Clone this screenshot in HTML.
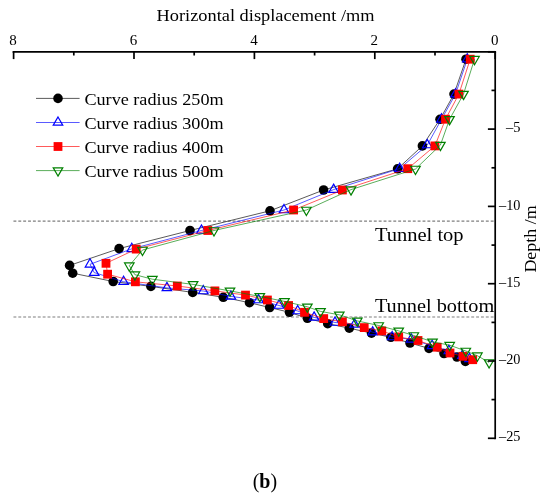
<!DOCTYPE html>
<html lang="en"><head><meta charset="utf-8"><title>Horizontal displacement</title>
<style>html,body{margin:0;padding:0;background:#fff}body{width:550px;height:499px;overflow:hidden}</style></head>
<body>
<svg width="550" height="499" viewBox="0 0 550 499" style="display:block;font-family:'Liberation Serif',serif">
<rect width="550" height="499" fill="#fff"/>
<line x1="13.45" x2="495" y1="221.2" y2="221.2" stroke="#7f7f7f" stroke-width="1.2" stroke-dasharray="2.9 1.97"/>
<line x1="13.45" x2="495" y1="317.0" y2="317.0" stroke="#7f7f7f" stroke-width="1.2" stroke-dasharray="2.9 1.97"/>
<polyline fill="none" stroke="#000" stroke-width="0.65" points="466.0,59.2 454.0,94.1 440.0,119.3 422.4,145.9 397.6,168.8 323.6,190.0 270.0,210.8 190.0,230.5 119.1,248.6 69.6,265.4 72.7,273.2 113.2,281.5 150.9,286.4 192.7,292.4 223.3,297.3 249.5,302.7 269.7,307.5 289.5,312.3 307.4,318.3 327.7,323.7 349.3,328.2 371.5,333.1 390.9,337.3 410.0,343.0 429.0,348.4 444.0,353.5 457.0,357.0 465.4,361.4"/>
<circle cx="466.0" cy="59.2" r="4.8" fill="#000"/>
<circle cx="454.0" cy="94.1" r="4.8" fill="#000"/>
<circle cx="440.0" cy="119.3" r="4.8" fill="#000"/>
<circle cx="422.4" cy="145.9" r="4.8" fill="#000"/>
<circle cx="397.6" cy="168.8" r="4.8" fill="#000"/>
<circle cx="323.6" cy="190.0" r="4.8" fill="#000"/>
<circle cx="270.0" cy="210.8" r="4.8" fill="#000"/>
<circle cx="190.0" cy="230.5" r="4.8" fill="#000"/>
<circle cx="119.1" cy="248.6" r="4.8" fill="#000"/>
<circle cx="69.6" cy="265.4" r="4.8" fill="#000"/>
<circle cx="72.7" cy="273.2" r="4.8" fill="#000"/>
<circle cx="113.2" cy="281.5" r="4.8" fill="#000"/>
<circle cx="150.9" cy="286.4" r="4.8" fill="#000"/>
<circle cx="192.7" cy="292.4" r="4.8" fill="#000"/>
<circle cx="223.3" cy="297.3" r="4.8" fill="#000"/>
<circle cx="249.5" cy="302.7" r="4.8" fill="#000"/>
<circle cx="269.7" cy="307.5" r="4.8" fill="#000"/>
<circle cx="289.5" cy="312.3" r="4.8" fill="#000"/>
<circle cx="307.4" cy="318.3" r="4.8" fill="#000"/>
<circle cx="327.7" cy="323.7" r="4.8" fill="#000"/>
<circle cx="349.3" cy="328.2" r="4.8" fill="#000"/>
<circle cx="371.5" cy="333.1" r="4.8" fill="#000"/>
<circle cx="390.9" cy="337.3" r="4.8" fill="#000"/>
<circle cx="410.0" cy="343.0" r="4.8" fill="#000"/>
<circle cx="429.0" cy="348.4" r="4.8" fill="#000"/>
<circle cx="444.0" cy="353.5" r="4.8" fill="#000"/>
<circle cx="457.0" cy="357.0" r="4.8" fill="#000"/>
<circle cx="465.4" cy="361.4" r="4.8" fill="#000"/>
<polyline fill="none" stroke="#0000ff" stroke-width="0.65" points="467.3,59.2 455.5,94.1 441.5,119.3 427.3,145.0 399.6,168.6 333.6,189.6 284.0,210.0 201.5,230.5 131.8,248.8 90.0,264.3 94.2,272.6 123.6,281.7 166.9,287.9 203.3,291.0 230.9,296.4 258.5,300.0 279.0,305.5 297.7,311.0 314.1,317.4 335.0,322.5 354.6,324.4 372.7,332.2 392.2,337.0 411.2,339.3 432.1,345.8 448.9,350.8 462.4,355.6 469.5,358.8"/>
<path d="M467.30 53.70L472.06 61.95L462.54 61.95Z" fill="none" stroke="#0000ff" stroke-width="1.2"/>
<path d="M455.50 88.60L460.26 96.85L450.74 96.85Z" fill="none" stroke="#0000ff" stroke-width="1.2"/>
<path d="M441.50 113.80L446.26 122.05L436.74 122.05Z" fill="none" stroke="#0000ff" stroke-width="1.2"/>
<path d="M427.30 139.50L432.06 147.75L422.54 147.75Z" fill="none" stroke="#0000ff" stroke-width="1.2"/>
<path d="M399.60 163.10L404.36 171.35L394.84 171.35Z" fill="none" stroke="#0000ff" stroke-width="1.2"/>
<path d="M333.60 184.10L338.36 192.35L328.84 192.35Z" fill="none" stroke="#0000ff" stroke-width="1.2"/>
<path d="M284.00 204.50L288.76 212.75L279.24 212.75Z" fill="none" stroke="#0000ff" stroke-width="1.2"/>
<path d="M201.50 225.00L206.26 233.25L196.74 233.25Z" fill="none" stroke="#0000ff" stroke-width="1.2"/>
<path d="M131.80 243.30L136.56 251.55L127.04 251.55Z" fill="none" stroke="#0000ff" stroke-width="1.2"/>
<path d="M90.00 258.80L94.76 267.05L85.24 267.05Z" fill="none" stroke="#0000ff" stroke-width="1.2"/>
<path d="M94.20 267.10L98.96 275.35L89.44 275.35Z" fill="none" stroke="#0000ff" stroke-width="1.2"/>
<path d="M123.60 276.20L128.36 284.45L118.84 284.45Z" fill="none" stroke="#0000ff" stroke-width="1.2"/>
<path d="M166.90 282.40L171.66 290.65L162.14 290.65Z" fill="none" stroke="#0000ff" stroke-width="1.2"/>
<path d="M203.30 285.50L208.06 293.75L198.54 293.75Z" fill="none" stroke="#0000ff" stroke-width="1.2"/>
<path d="M230.90 290.90L235.66 299.15L226.14 299.15Z" fill="none" stroke="#0000ff" stroke-width="1.2"/>
<path d="M258.50 294.50L263.26 302.75L253.74 302.75Z" fill="none" stroke="#0000ff" stroke-width="1.2"/>
<path d="M279.00 300.00L283.76 308.25L274.24 308.25Z" fill="none" stroke="#0000ff" stroke-width="1.2"/>
<path d="M297.70 305.50L302.46 313.75L292.94 313.75Z" fill="none" stroke="#0000ff" stroke-width="1.2"/>
<path d="M314.10 311.90L318.86 320.15L309.34 320.15Z" fill="none" stroke="#0000ff" stroke-width="1.2"/>
<path d="M335.00 317.00L339.76 325.25L330.24 325.25Z" fill="none" stroke="#0000ff" stroke-width="1.2"/>
<path d="M354.60 318.90L359.36 327.15L349.84 327.15Z" fill="none" stroke="#0000ff" stroke-width="1.2"/>
<path d="M372.70 326.70L377.46 334.95L367.94 334.95Z" fill="none" stroke="#0000ff" stroke-width="1.2"/>
<path d="M392.20 331.50L396.96 339.75L387.44 339.75Z" fill="none" stroke="#0000ff" stroke-width="1.2"/>
<path d="M411.20 333.80L415.96 342.05L406.44 342.05Z" fill="none" stroke="#0000ff" stroke-width="1.2"/>
<path d="M432.10 340.30L436.86 348.55L427.34 348.55Z" fill="none" stroke="#0000ff" stroke-width="1.2"/>
<path d="M448.90 345.30L453.66 353.55L444.14 353.55Z" fill="none" stroke="#0000ff" stroke-width="1.2"/>
<path d="M462.40 350.10L467.16 358.35L457.64 358.35Z" fill="none" stroke="#0000ff" stroke-width="1.2"/>
<path d="M469.50 353.30L474.26 361.55L464.74 361.55Z" fill="none" stroke="#0000ff" stroke-width="1.2"/>
<polyline fill="none" stroke="#ff0000" stroke-width="0.65" points="470.2,59.2 458.9,94.1 445.5,119.2 434.9,145.9 407.8,168.7 342.4,190.0 293.6,210.0 207.8,230.5 136.2,249.1 106.0,263.3 107.6,274.2 135.4,281.8 177.3,286.0 214.9,290.9 245.5,295.1 267.4,300.0 288.6,305.5 304.5,312.3 323.7,318.6 342.4,321.8 364.2,327.6 381.8,330.9 398.7,336.9 418.0,340.5 437.2,347.2 450.0,353.0 463.0,356.3 472.7,359.7"/>
<rect x="465.8" y="54.8" width="8.8" height="8.8" fill="#ff0000"/>
<rect x="454.5" y="89.7" width="8.8" height="8.8" fill="#ff0000"/>
<rect x="441.1" y="114.8" width="8.8" height="8.8" fill="#ff0000"/>
<rect x="430.5" y="141.5" width="8.8" height="8.8" fill="#ff0000"/>
<rect x="403.4" y="164.3" width="8.8" height="8.8" fill="#ff0000"/>
<rect x="338.0" y="185.6" width="8.8" height="8.8" fill="#ff0000"/>
<rect x="289.2" y="205.6" width="8.8" height="8.8" fill="#ff0000"/>
<rect x="203.4" y="226.1" width="8.8" height="8.8" fill="#ff0000"/>
<rect x="131.8" y="244.7" width="8.8" height="8.8" fill="#ff0000"/>
<rect x="101.6" y="258.9" width="8.8" height="8.8" fill="#ff0000"/>
<rect x="103.2" y="269.8" width="8.8" height="8.8" fill="#ff0000"/>
<rect x="131.0" y="277.4" width="8.8" height="8.8" fill="#ff0000"/>
<rect x="172.9" y="281.6" width="8.8" height="8.8" fill="#ff0000"/>
<rect x="210.5" y="286.5" width="8.8" height="8.8" fill="#ff0000"/>
<rect x="241.1" y="290.7" width="8.8" height="8.8" fill="#ff0000"/>
<rect x="263.0" y="295.6" width="8.8" height="8.8" fill="#ff0000"/>
<rect x="284.2" y="301.1" width="8.8" height="8.8" fill="#ff0000"/>
<rect x="300.1" y="307.9" width="8.8" height="8.8" fill="#ff0000"/>
<rect x="319.3" y="314.2" width="8.8" height="8.8" fill="#ff0000"/>
<rect x="338.0" y="317.4" width="8.8" height="8.8" fill="#ff0000"/>
<rect x="359.8" y="323.2" width="8.8" height="8.8" fill="#ff0000"/>
<rect x="377.4" y="326.5" width="8.8" height="8.8" fill="#ff0000"/>
<rect x="394.3" y="332.5" width="8.8" height="8.8" fill="#ff0000"/>
<rect x="413.6" y="336.1" width="8.8" height="8.8" fill="#ff0000"/>
<rect x="432.8" y="342.8" width="8.8" height="8.8" fill="#ff0000"/>
<rect x="445.6" y="348.6" width="8.8" height="8.8" fill="#ff0000"/>
<rect x="458.6" y="351.9" width="8.8" height="8.8" fill="#ff0000"/>
<rect x="468.3" y="355.3" width="8.8" height="8.8" fill="#ff0000"/>
<polyline fill="none" stroke="#008000" stroke-width="0.65" points="474.5,59.2 463.5,94.1 449.5,119.4 440.4,145.1 415.5,169.0 351.0,189.6 306.4,210.0 214.0,230.5 142.5,250.0 129.3,265.7 134.9,274.7 152.4,279.2 193.1,284.4 230.0,290.9 259.8,296.4 284.5,301.4 307.4,306.8 320.5,311.4 339.3,314.8 357.3,320.9 378.7,325.5 398.7,330.9 413.8,335.5 432.5,341.8 449.7,345.2 465.8,351.0 477.4,355.7 489.1,362.5"/>
<path d="M474.50 64.70L479.26 56.45L469.74 56.45Z" fill="none" stroke="#008000" stroke-width="1.2"/>
<path d="M463.50 99.60L468.26 91.35L458.74 91.35Z" fill="none" stroke="#008000" stroke-width="1.2"/>
<path d="M449.50 124.90L454.26 116.65L444.74 116.65Z" fill="none" stroke="#008000" stroke-width="1.2"/>
<path d="M440.40 150.60L445.16 142.35L435.64 142.35Z" fill="none" stroke="#008000" stroke-width="1.2"/>
<path d="M415.50 174.50L420.26 166.25L410.74 166.25Z" fill="none" stroke="#008000" stroke-width="1.2"/>
<path d="M351.00 195.10L355.76 186.85L346.24 186.85Z" fill="none" stroke="#008000" stroke-width="1.2"/>
<path d="M306.40 215.50L311.16 207.25L301.64 207.25Z" fill="none" stroke="#008000" stroke-width="1.2"/>
<path d="M214.00 236.00L218.76 227.75L209.24 227.75Z" fill="none" stroke="#008000" stroke-width="1.2"/>
<path d="M142.50 255.50L147.26 247.25L137.74 247.25Z" fill="none" stroke="#008000" stroke-width="1.2"/>
<path d="M129.30 271.20L134.06 262.95L124.54 262.95Z" fill="none" stroke="#008000" stroke-width="1.2"/>
<path d="M134.90 280.20L139.66 271.95L130.14 271.95Z" fill="none" stroke="#008000" stroke-width="1.2"/>
<path d="M152.40 284.70L157.16 276.45L147.64 276.45Z" fill="none" stroke="#008000" stroke-width="1.2"/>
<path d="M193.10 289.90L197.86 281.65L188.34 281.65Z" fill="none" stroke="#008000" stroke-width="1.2"/>
<path d="M230.00 296.40L234.76 288.15L225.24 288.15Z" fill="none" stroke="#008000" stroke-width="1.2"/>
<path d="M259.80 301.90L264.56 293.65L255.04 293.65Z" fill="none" stroke="#008000" stroke-width="1.2"/>
<path d="M284.50 306.90L289.26 298.65L279.74 298.65Z" fill="none" stroke="#008000" stroke-width="1.2"/>
<path d="M307.40 312.30L312.16 304.05L302.64 304.05Z" fill="none" stroke="#008000" stroke-width="1.2"/>
<path d="M320.50 316.90L325.26 308.65L315.74 308.65Z" fill="none" stroke="#008000" stroke-width="1.2"/>
<path d="M339.30 320.30L344.06 312.05L334.54 312.05Z" fill="none" stroke="#008000" stroke-width="1.2"/>
<path d="M357.30 326.40L362.06 318.15L352.54 318.15Z" fill="none" stroke="#008000" stroke-width="1.2"/>
<path d="M378.70 331.00L383.46 322.75L373.94 322.75Z" fill="none" stroke="#008000" stroke-width="1.2"/>
<path d="M398.70 336.40L403.46 328.15L393.94 328.15Z" fill="none" stroke="#008000" stroke-width="1.2"/>
<path d="M413.80 341.00L418.56 332.75L409.04 332.75Z" fill="none" stroke="#008000" stroke-width="1.2"/>
<path d="M432.50 347.30L437.26 339.05L427.74 339.05Z" fill="none" stroke="#008000" stroke-width="1.2"/>
<path d="M449.70 350.70L454.46 342.45L444.94 342.45Z" fill="none" stroke="#008000" stroke-width="1.2"/>
<path d="M465.80 356.50L470.56 348.25L461.04 348.25Z" fill="none" stroke="#008000" stroke-width="1.2"/>
<path d="M477.40 361.20L482.16 352.95L472.64 352.95Z" fill="none" stroke="#008000" stroke-width="1.2"/>
<path d="M489.10 368.00L493.86 359.75L484.34 359.75Z" fill="none" stroke="#008000" stroke-width="1.2"/>
<g stroke="#000" stroke-width="1.7" fill="none" stroke-linecap="butt">
<path d="M12.6 51.8H496.1"/>
<path d="M495.2 51.8V439.2"/>
<path d="M495.2 51.8v7.3"/>
<path d="M435.0 51.8v3.7"/>
<path d="M374.8 51.8v7.3"/>
<path d="M314.6 51.8v3.7"/>
<path d="M254.4 51.8v7.3"/>
<path d="M194.2 51.8v3.7"/>
<path d="M134.0 51.8v7.3"/>
<path d="M73.8 51.8v3.7"/>
<path d="M13.6 51.8v7.3"/>
<path d="M495.2 51.8h-7.3"/>
<path d="M495.2 90.4h-3.7"/>
<path d="M495.2 129.1h-7.3"/>
<path d="M495.2 167.8h-3.7"/>
<path d="M495.2 206.4h-7.3"/>
<path d="M495.2 245.1h-3.7"/>
<path d="M495.2 283.7h-7.3"/>
<path d="M495.2 322.4h-3.7"/>
<path d="M495.2 361.0h-7.3"/>
<path d="M495.2 399.6h-3.7"/>
<path d="M495.2 438.3h-7.3"/>
</g>
<g font-size="15" fill="#000">
<text x="494.7" y="45.4" text-anchor="middle">0</text>
<text x="374.3" y="45.4" text-anchor="middle">2</text>
<text x="253.9" y="45.4" text-anchor="middle">4</text>
<text x="133.5" y="45.4" text-anchor="middle">6</text>
<text x="13.1" y="45.4" text-anchor="middle">8</text>
<text x="506.1" y="132.2" textLength="14.4" lengthAdjust="spacingAndGlyphs">–5</text>
<text x="499.1" y="209.5" textLength="21.4" lengthAdjust="spacingAndGlyphs">–10</text>
<text x="499.1" y="286.8" textLength="21.4" lengthAdjust="spacingAndGlyphs">–15</text>
<text x="499.1" y="364.1" textLength="21.4" lengthAdjust="spacingAndGlyphs">–20</text>
<text x="499.1" y="441.4" textLength="21.4" lengthAdjust="spacingAndGlyphs">–25</text>
</g>
<text x="156.6" y="20.6" font-size="17" textLength="218" lengthAdjust="spacingAndGlyphs">Horizontal displacement /mm</text>
<text transform="translate(535.8,272.6) rotate(-90)" font-size="17" textLength="67.3" lengthAdjust="spacingAndGlyphs">Depth /m</text>
<text x="374.9" y="241.0" font-size="19" textLength="88.7" lengthAdjust="spacingAndGlyphs">Tunnel top</text>
<text x="374.9" y="311.7" font-size="18.6" textLength="119.3" lengthAdjust="spacingAndGlyphs">Tunnel bottom</text>
<line x1="36" x2="79.6" y1="98.4" y2="98.4" stroke="#000" stroke-width="0.65"/>
<circle cx="58.0" cy="98.4" r="4.8" fill="#000"/>
<text x="84.4" y="105.1" font-size="17.6" textLength="139.2" lengthAdjust="spacingAndGlyphs">Curve radius 250m</text>
<line x1="36" x2="79.6" y1="122.5" y2="122.5" stroke="#0000ff" stroke-width="0.65"/>
<path d="M58.00 116.97L62.76 125.22L53.24 125.22Z" fill="none" stroke="#0000ff" stroke-width="1.2"/>
<text x="84.4" y="129.2" font-size="17.6" textLength="139.2" lengthAdjust="spacingAndGlyphs">Curve radius 300m</text>
<line x1="36" x2="79.6" y1="146.5" y2="146.5" stroke="#ff0000" stroke-width="0.65"/>
<rect x="53.6" y="142.1" width="8.8" height="8.8" fill="#ff0000"/>
<text x="84.4" y="153.2" font-size="17.6" textLength="139.2" lengthAdjust="spacingAndGlyphs">Curve radius 400m</text>
<line x1="36" x2="79.6" y1="170.6" y2="170.6" stroke="#008000" stroke-width="0.65"/>
<path d="M58.00 176.11L62.76 167.86L53.24 167.86Z" fill="none" stroke="#008000" stroke-width="1.2"/>
<text x="84.4" y="177.3" font-size="17.6" textLength="139.2" lengthAdjust="spacingAndGlyphs">Curve radius 500m</text>
<text x="252.7" y="487.8" font-size="20">(<tspan font-weight="bold">b</tspan>)</text>
</svg>
</body></html>
